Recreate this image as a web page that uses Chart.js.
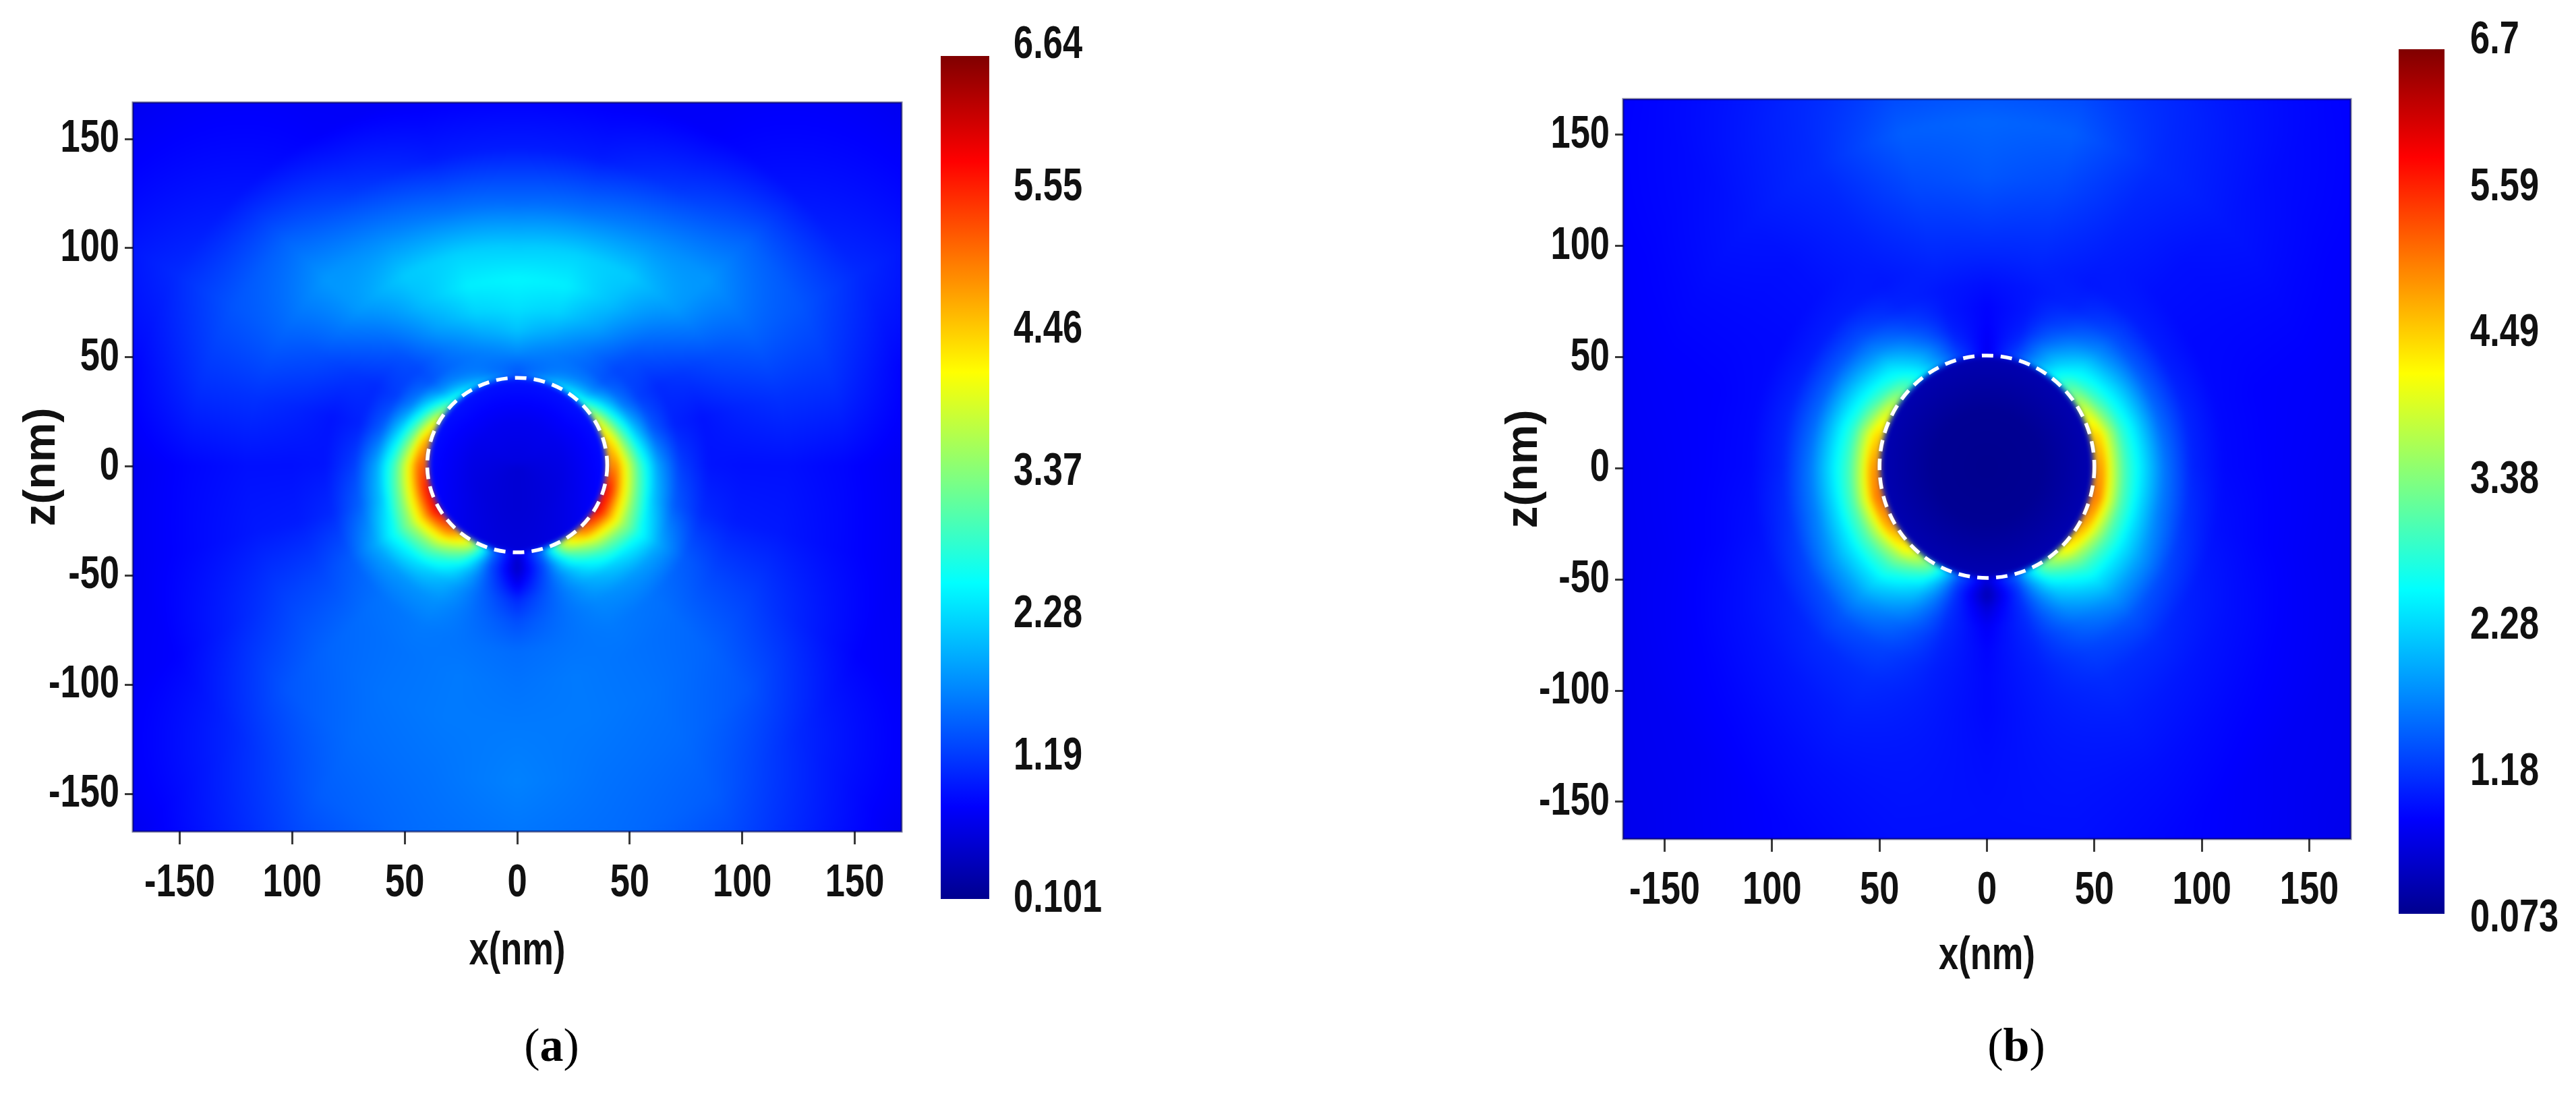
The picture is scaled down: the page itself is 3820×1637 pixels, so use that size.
<!DOCTYPE html>
<html>
<head>
<meta charset="utf-8">
<title>Field maps</title>
<script src="https://cdn.jsdelivr.net/npm/chart.js@4"></script>
<style>
  html, body { margin: 0; background: #fff; }
  #page { position: relative; width: 3820px; height: 1637px; overflow: hidden; background: #fff; }
  canvas { position: absolute; top: 0; }
  .tag { position: absolute; top: 1510px; font: 70px "Liberation Serif", serif; color: #000; transform: translateX(-50%); }
</style>
</head>
<body>
<div id="page">
  <canvas id="mapA" width="1340" height="1637" style="left:30px"></canvas>
  <canvas id="barA" width="300" height="1637" style="left:1385px"></canvas>
  <canvas id="mapB" width="1290" height="1637" style="left:2228px"></canvas>
  <canvas id="barB" width="270" height="1637" style="left:3547px"></canvas>
  <div class="tag" style="left:818px">(<b>a</b>)</div>
  <div class="tag" style="left:2990px">(<b>b</b>)</div>
</div>
<script>
// ===== Axis ticks =====
const tickValues = [-150, -100, -50, 0, 50, 100, 150];
const xTickLabels = ['-150', '100', '50', '0', '50', '100', '150'];
const zTickLabels = ['-150', '-100', '-50', '0', '50', '100', '150'];

// ===== Colour bars =====
const barValuesA = [0.101, 1.19, 2.28, 3.37, 4.46, 5.55, 6.64];
const barLabelsA = ['0.101', '1.19', '2.28', '3.37', '4.46', '5.55', '6.64'];
const barValuesB = [0.073, 1.18, 2.28, 3.38, 4.49, 5.59, 6.7];
const barLabelsB = ['0.073', '1.18', '2.28', '3.38', '4.49', '5.59', '6.7'];

// ===== Field: a row per angle (clockwise from +z), a column per radius (nm) =====
const anglesDeg = [0, 15, 30, 45, 60, 75, 90, 105, 120, 135, 150, 165, 180, 195, 210, 225, 240, 255, 270, 285, 300, 315, 330, 345];

const sphereRadiusA = 40;
const sphereCenterZA = 0.6;
const radiiA = [0, 20, 39.5, 40, 44, 48, 54, 62, 72, 85, 100, 120, 145, 175, 240];
const fieldA = [
  [.62, .72, .95, 1.4, 1.45, 1.6, 1.85, 2.15, 2.35, 2.5, 2.2, 1.55, 1.0, .75, .72],
  [.62, .72, .95, 1.9, 1.6, 1.6, 1.7, 1.95, 2.25, 2.45, 2.25, 1.6, 1.0, .75, .72],
  [.62, .72, .95, 2.4, 1.9, 1.65, 1.55, 1.65, 1.9, 2.1, 2.2, 1.75, 1.2, .8, .72],
  [.62, .72, .95, 2.9, 2.2, 1.75, 1.4, 1.3, 1.4, 1.6, 1.85, 1.85, 1.5, .95, .72],
  [.62, .7, .92, 4.2, 3.3, 2.5, 1.7, 1.25, 1.1, 1.2, 1.35, 1.5, 1.4, 1.1, .72],
  [.6, .68, .9, 4.7, 4.2, 3.3, 2.3, 1.45, 1.05, .95, 1.05, 1.15, 1.15, .85, .7],
  [.58, .66, .88, 5.0, 4.9, 4.1, 3.0, 1.95, 1.25, .95, .92, .92, .85, .72, .68],
  [.57, .64, .85, 5.9, 5.35, 4.4, 3.3, 2.2, 1.45, 1.1, 1.0, .98, .88, .75, .68],
  [.56, .62, .8, 6.0, 5.4, 4.6, 3.6, 2.7, 2.0, 1.45, 1.3, 1.25, 1.05, .82, .68],
  [.55, .6, .72, 5.3, 4.8, 4.0, 3.1, 2.3, 1.85, 1.6, 1.55, 1.5, 1.4, 1.1, .72],
  [.55, .58, .65, 4.0, 3.6, 2.9, 2.3, 1.95, 1.75, 1.65, 1.6, 1.6, 1.55, 1.45, 1.0],
  [.55, .56, .6, 1.6, 1.5, 1.4, 1.45, 1.5, 1.55, 1.6, 1.65, 1.65, 1.6, 1.55, 1.3],
  [.55, .55, .58, .6, .45, .45, .7, 1.1, 1.35, 1.55, 1.6, 1.65, 1.7, 1.6, 1.4],
  [.55, .56, .6, 1.6, 1.5, 1.4, 1.45, 1.5, 1.55, 1.6, 1.65, 1.65, 1.6, 1.55, 1.3],
  [.55, .58, .65, 4.0, 3.6, 3.0, 2.4, 2.0, 1.8, 1.65, 1.6, 1.6, 1.55, 1.45, 1.0],
  [.55, .6, .72, 5.3, 4.8, 4.1, 3.2, 2.4, 1.85, 1.6, 1.55, 1.5, 1.4, 1.1, .72],
  [.56, .62, .8, 6.0, 5.4, 4.6, 3.6, 2.7, 2.0, 1.45, 1.3, 1.25, 1.05, .82, .68],
  [.57, .64, .85, 5.9, 5.3, 4.4, 3.3, 2.2, 1.5, 1.1, 1.0, .98, .88, .75, .68],
  [.58, .66, .88, 5.3, 5.1, 4.2, 3.05, 2.0, 1.25, .95, .92, .92, .85, .72, .68],
  [.6, .68, .9, 5.0, 4.4, 3.4, 2.4, 1.5, 1.05, .95, 1.05, 1.15, 1.15, .85, .7],
  [.62, .7, .92, 4.2, 3.4, 2.6, 1.75, 1.25, 1.1, 1.2, 1.35, 1.5, 1.4, 1.1, .72],
  [.62, .72, .95, 3.0, 2.3, 1.8, 1.4, 1.3, 1.4, 1.6, 1.85, 1.85, 1.5, .95, .72],
  [.62, .72, .95, 2.4, 1.9, 1.65, 1.55, 1.65, 1.9, 2.1, 2.2, 1.75, 1.2, .8, .72],
  [.62, .72, .95, 1.9, 1.6, 1.6, 1.7, 1.95, 2.25, 2.45, 2.25, 1.6, 1.0, .75, .72],
];

const sphereRadiusB = 50;
const sphereCenterZB = 0.7;
const radiiB = [0, 25, 49.5, 50, 54, 58, 64, 72, 82, 95, 110, 130, 155, 185, 240];
const fieldB = [
  [.07, .1, .3, .7, .72, .75, .8, .82, .9, 1.05, 1.2, 1.4, 1.5, 1.2, .9],
  [.07, .1, .3, 1.3, 1.2, 1.1, 1.0, .95, .95, 1.05, 1.15, 1.3, 1.45, 1.2, .9],
  [.07, .1, .3, 2.2, 2.0, 1.9, 1.6, 1.3, 1.05, .95, 1.0, 1.05, 1.1, 1.05, .85],
  [.07, .1, .3, 3.0, 2.9, 2.6, 2.3, 1.8, 1.35, 1.0, .9, .9, .95, .88, .8],
  [.07, .1, .3, 4.0, 3.7, 3.1, 2.6, 2.1, 1.45, 1.0, .85, .85, .85, .8, .75],
  [.07, .1, .3, 4.6, 4.5, 3.8, 2.9, 2.3, 1.55, 1.05, .85, .8, .78, .74, .7],
  [.07, .1, .3, 4.9, 4.8, 3.9, 3.0, 2.4, 1.65, 1.05, .85, .8, .75, .7, .65],
  [.07, .1, .3, 5.1, 5.0, 4.1, 3.1, 2.4, 1.7, 1.15, .9, .82, .75, .7, .65],
  [.07, .1, .3, 5.0, 4.6, 3.9, 3.1, 2.45, 1.9, 1.3, 1.0, .9, .8, .72, .65],
  [.07, .1, .3, 4.4, 4.1, 3.5, 2.9, 2.4, 1.9, 1.4, 1.1, .95, .85, .75, .68],
  [.07, .1, .3, 3.2, 3.0, 2.6, 2.2, 1.85, 1.5, 1.25, 1.1, 1.0, .9, .82, .75],
  [.07, .1, .3, 1.5, 1.3, 1.2, 1.15, 1.1, 1.05, 1.0, .98, .95, .92, .88, .85],
  [.07, .1, .3, .6, .4, .3, .55, .75, .82, .85, .85, .88, .9, .88, .85],
  [.07, .1, .3, 1.5, 1.3, 1.2, 1.15, 1.1, 1.05, 1.0, .98, .95, .92, .88, .85],
  [.07, .1, .3, 3.2, 3.0, 2.6, 2.2, 1.85, 1.5, 1.25, 1.1, 1.0, .9, .82, .75],
  [.07, .1, .3, 4.4, 4.1, 3.5, 2.9, 2.4, 1.9, 1.4, 1.1, .95, .85, .75, .68],
  [.07, .1, .3, 5.0, 4.7, 3.9, 3.1, 2.45, 1.9, 1.3, 1.0, .9, .8, .72, .65],
  [.07, .1, .3, 5.2, 5.0, 4.1, 3.1, 2.4, 1.7, 1.15, .9, .82, .75, .7, .65],
  [.07, .1, .3, 5.0, 4.8, 3.9, 3.0, 2.4, 1.65, 1.05, .85, .8, .75, .7, .65],
  [.07, .1, .3, 4.6, 4.4, 3.8, 2.9, 2.3, 1.55, 1.05, .85, .8, .78, .74, .7],
  [.07, .1, .3, 4.0, 3.7, 3.1, 2.6, 2.1, 1.45, 1.0, .85, .85, .85, .8, .75],
  [.07, .1, .3, 3.0, 2.9, 2.6, 2.3, 1.8, 1.35, 1.0, .9, .9, .95, .88, .8],
  [.07, .1, .3, 2.2, 2.0, 1.9, 1.6, 1.3, 1.05, .95, 1.0, 1.05, 1.1, 1.05, .85],
  [.07, .1, .3, 1.3, 1.2, 1.1, 1.0, .95, .95, 1.05, 1.15, 1.3, 1.45, 1.2, .9],
];

// ===== Jet colour map =====
const jetStops = [[0, 0, 0, 143], [0.11, 0, 0, 255], [0.375, 0, 255, 255], [0.625, 255, 255, 0], [0.875, 255, 0, 0], [1, 128, 0, 0]];

function jetColor(t) {
  t = Math.min(1, Math.max(0, t));
  let i = 0;
  while (i < jetStops.length - 2 && t > jetStops[i + 1][0]) i++;
  const a = jetStops[i], b = jetStops[i + 1];
  const f = (t - a[0]) / (b[0] - a[0]);
  return [a[1] + (b[1] - a[1]) * f, a[2] + (b[2] - a[2]) * f, a[3] + (b[3] - a[3]) * f];
}

// ===== Plugin: shades the read field into the chart area through the scales =====
const fieldPlugin = {
  id: 'fieldMap',
  beforeDatasetsDraw(chart, args, opts) {
    const { ctx, chartArea: area, scales: { x, y } } = chart;
    const w = Math.round(area.right - area.left), h = Math.round(area.bottom - area.top);
    const off = document.createElement('canvas');
    off.width = w;
    off.height = h;
    const octx = off.getContext('2d');
    const img = octx.createImageData(w, h);

    const xs = [], zs = [];
    for (let i = 0; i < w; i++) xs.push(x.getValueForPixel(area.left + i + 0.5));
    for (let j = 0; j < h; j++) zs.push(y.getValueForPixel(area.top + j + 0.5) - opts.centerZ);

    const step = anglesDeg[1] - anglesDeg[0];
    const radii = opts.radii, field = opts.field, n = anglesDeg.length;
    let p = 0;
    for (let j = 0; j < h; j++) {
      for (let i = 0; i < w; i++) {
        const r = Math.hypot(xs[i], zs[j]);
        let deg = Math.atan2(xs[i], zs[j]) * 180 / Math.PI;
        if (deg < 0) deg += 360;
        const a0 = Math.floor(deg / step) % n, a1 = (a0 + 1) % n;
        const fa = deg / step - Math.floor(deg / step);
        let k = 0;
        while (k < radii.length - 2 && r > radii[k + 1]) k++;
        const fr = Math.min(1, (r - radii[k]) / (radii[k + 1] - radii[k]));
        const v0 = field[a0][k] + (field[a0][k + 1] - field[a0][k]) * fr;
        const v1 = field[a1][k] + (field[a1][k + 1] - field[a1][k]) * fr;
        const c = jetColor(((v0 + (v1 - v0) * fa) - opts.min) / (opts.max - opts.min));
        img.data[p++] = c[0];
        img.data[p++] = c[1];
        img.data[p++] = c[2];
        img.data[p++] = 255;
      }
    }
    octx.putImageData(img, 0, 0);

    // plain copy first so the blur keeps solid edges, then the soft one on top
    ctx.save();
    ctx.beginPath();
    ctx.rect(area.left, area.top, w, h);
    ctx.clip();
    ctx.drawImage(off, area.left, area.top);
    ctx.filter = 'blur(4px)';
    ctx.drawImage(off, area.left, area.top);
    ctx.restore();
  },
  afterDatasetsDraw(chart, args, opts) {
    const { ctx, chartArea: area, scales: { x, y } } = chart;
    ctx.save();
    // thin dark frame round the map
    ctx.strokeStyle = 'rgba(0,0,70,0.55)';
    ctx.lineWidth = 3;
    ctx.strokeRect(area.left, area.top, area.right - area.left, area.bottom - area.top);
    // dashed outline of the sphere
    const cx = x.getPixelForValue(0), cy = y.getPixelForValue(opts.centerZ);
    ctx.strokeStyle = '#fff';
    ctx.lineWidth = 5.5;
    ctx.setLineDash([17, 11]);
    ctx.beginPath();
    ctx.ellipse(cx, cy, x.getPixelForValue(opts.sphere) - cx, cy - y.getPixelForValue(opts.centerZ + opts.sphere), 0, 0, Math.PI * 2);
    ctx.stroke();
    ctx.restore();
  },
};

const tickFont = { family: '"Liberation Sans", sans-serif', size: 69, weight: 'bold', lineHeight: 1 };

// No condensed face is installed, so labels are squeezed horizontally at draw time.
// z(nm) stays at full width, as in the reference.
function contextoEstreito(id) {
  const ctx = document.getElementById(id).getContext('2d');
  const fillText = ctx.fillText.bind(ctx);
  ctx.fillText = (text, x, y) => {
    ctx.save();
    ctx.translate(x, y);
    ctx.scale(text === 'z(nm)' ? 1 : 0.76, 1);
    fillText(text, 0, 0);
    ctx.restore();
  };
  return ctx;
}

// ===== Heat map panel =====
function desenharMapa(id, cfg) {
  return new Chart(contextoEstreito(id), {
    type: 'scatter',
    data: { datasets: [{ data: [], pointRadius: 0 }] },
    plugins: [fieldPlugin],
    options: {
      responsive: false,
      animation: false,
      devicePixelRatio: 1,
      layout: { padding: cfg.padding },
      plugins: {
        legend: { display: false },
        tooltip: { enabled: false },
        fieldMap: { radii: cfg.radii, field: cfg.field, sphere: cfg.sphere, centerZ: cfg.centerZ, min: cfg.min, max: cfg.max },
      },
      scales: {
        x: {
          type: 'linear',
          min: cfg.xRange[0],
          max: cfg.xRange[1],
          afterBuildTicks: (s) => { s.ticks = tickValues.map((value) => ({ value })); },
          afterFit: (s) => { s.height = cfg.xAxisHeight; },
          grid: { drawOnChartArea: false, tickLength: 19, tickWidth: 3, tickColor: '#3a3a3a' },
          border: { display: false },
          ticks: { color: '#111', font: tickFont, padding: 23, maxRotation: 0, autoSkip: false, callback: (v, i) => xTickLabels[i] },
          title: { display: true, text: 'x(nm)', color: '#111', font: tickFont, padding: 0 },
        },
        y: {
          type: 'linear',
          min: cfg.zRange[0],
          max: cfg.zRange[1],
          afterBuildTicks: (s) => { s.ticks = tickValues.map((value) => ({ value })); },
          afterFit: (s) => { s.width = cfg.yAxisWidth; },
          grid: { drawOnChartArea: false, tickLength: 12, tickWidth: 3, tickColor: '#3a3a3a' },
          border: { display: false },
          ticks: { color: '#111', font: tickFont, padding: 8, autoSkip: false, callback: (v, i) => zTickLabels[i] },
          title: { display: true, text: 'z(nm)', color: '#111', font: { family: '"Liberation Sans", sans-serif', size: 66, weight: 'bold', lineHeight: 1 }, padding: 0 },
        },
      },
    },
  });
}

// ===== Colour bar panel =====
function desenharBarra(id, cfg) {
  return new Chart(contextoEstreito(id), {
    type: 'bar',
    data: {
      labels: ['bar'],
      datasets: [{
        data: [[cfg.values[0], cfg.values[cfg.values.length - 1]]],
        barPercentage: 1,
        categoryPercentage: 1,
        yAxisID: 'y',
        backgroundColor: (c) => {
          const { chart } = c;
          if (!chart.chartArea) return '#00f';
          const g = chart.ctx.createLinearGradient(0, chart.chartArea.bottom, 0, chart.chartArea.top);
          for (let i = 0; i <= 64; i++) {
            const rgb = jetColor(i / 64);
            g.addColorStop(i / 64, `rgb(${rgb.map(Math.round).join(',')})`);
          }
          return g;
        },
      }],
    },
    options: {
      responsive: false,
      animation: false,
      devicePixelRatio: 1,
      layout: { padding: cfg.padding },
      plugins: { legend: { display: false }, tooltip: { enabled: false } },
      scales: {
        x: { display: false },
        y: { display: false, min: cfg.values[0], max: cfg.values[cfg.values.length - 1] },
        labels: {
          position: 'right',
          min: cfg.labelRange[0],
          max: cfg.labelRange[1],
          afterBuildTicks: (s) => { s.ticks = cfg.values.map((value) => ({ value })); },
          afterFit: (s) => { s.width = cfg.axisWidth; },
          grid: { display: false },
          border: { display: false },
          ticks: { color: '#111', font: tickFont, padding: cfg.labelGap, autoSkip: false, callback: (v, i) => cfg.labels[i] },
        },
      },
    },
  });
}

// ===== Inicialização =====
desenharMapa('mapA', {
  radii: radiiA, field: fieldA, sphere: sphereRadiusA, centerZ: sphereCenterZA,
  min: barValuesA[0], max: barValuesA[6],
  xRange: [-170.8, 170.8], zRange: [-167.3, 166.7],
  padding: { top: 152, right: 33, bottom: 192, left: 0 },
  xAxisHeight: 212, yAxisWidth: 167,
});
desenharBarra('barA', {
  values: barValuesA, labels: barLabelsA, labelRange: [0.101, 6.557],
  padding: { top: 83, left: 10, bottom: 304, right: 0 },
  axisWidth: 218, labelGap: 28,
});
desenharMapa('mapB', {
  radii: radiiB, field: fieldB, sphere: sphereRadiusB, centerZ: sphereCenterZB,
  min: barValuesB[0], max: barValuesB[6],
  xRange: [-169.3, 169.3], zRange: [-166.7, 166],
  padding: { top: 147, right: 32, bottom: 185, left: 0 },
  xAxisHeight: 208, yAxisWidth: 179,
});
desenharBarra('barB', {
  values: barValuesB, labels: barLabelsB, labelRange: [0.109, 6.634],
  padding: { top: 73, left: 10, bottom: 282, right: 0 },
  axisWidth: 192, labelGap: 30,
});
</script>
</body>
</html>
